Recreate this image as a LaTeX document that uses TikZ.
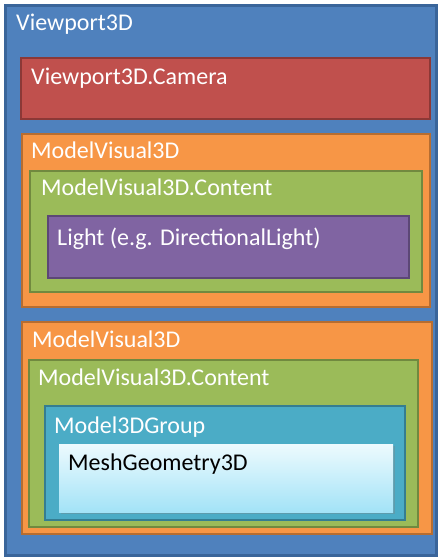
\documentclass[tikz,border=0pt]{standalone}
\usepackage{fontspec}
\setmainfont{Carlito}
\usetikzlibrary{positioning,shadows}
\definecolor{vpFill}{HTML}{4F81BD}\definecolor{vpLine}{HTML}{3A659A}
\definecolor{camFill}{HTML}{C0504D}\definecolor{camLine}{HTML}{8C3836}
\definecolor{mvFill}{HTML}{F79646}\definecolor{mvLine}{HTML}{B66D31}
\definecolor{mcFill}{HTML}{9BBB59}\definecolor{mcLine}{HTML}{71893F}
\definecolor{ltFill}{HTML}{8064A2}\definecolor{ltLine}{HTML}{5C4776}
\definecolor{grpFill}{HTML}{4BACC6}\definecolor{grpLine}{HTML}{357D91}
\definecolor{meshTop}{HTML}{EDFAFE}\definecolor{meshBot}{HTML}{A3E3F7}
\tikzset{
  layer/.style={draw, line width=2pt, rectangle, anchor=north west, inner sep=0pt},
  tag/.style={anchor=base west, inner sep=0pt, text=white, font=\fontsize{24}{27}\selectfont}
}

\begin{document}
\begin{tikzpicture}[x=1pt, y=-1pt]
            \useasboundingbox (0,0) rectangle (438,558);
            %Boxes
            \node[layer, line width=3pt, draw=vpLine, fill=vpFill, minimum width=431pt, minimum height=550pt] at (4,4) (vp) {};
            \node[layer, draw=camLine, fill=camFill, minimum width=409pt, minimum height=61pt] at (20,57) (cam) {};
            \node[layer, draw=mvLine, fill=mvFill, minimum width=408pt, minimum height=173pt] at (21,133) (mv1) {};
            \node[layer, draw=mcLine, fill=mcFill, minimum width=392pt, minimum height=121pt] at (29,170) (mc1) {};
            \node[layer, draw=ltLine, fill=ltFill, minimum width=361pt, minimum height=62pt] at (47,215) (light) {};
            \node[layer, draw=mvLine, fill=mvFill, minimum width=410pt, minimum height=212pt] at (21,321) (mv2) {};
            \node[layer, draw=mcLine, fill=mcFill, minimum width=389pt, minimum height=167pt] at (28,359) (mc2) {};
            \node[layer, draw=grpLine, fill=grpFill, minimum width=360pt, minimum height=114pt] at (44,405) (grp) {};
            \node[layer, draw=none, top color=meshTop, bottom color=meshBot, drop shadow={shadow xshift=1.5pt, shadow yshift=-1.5pt, opacity=0.35}, minimum width=334pt, minimum height=68pt] at (58,443) (mesh) {};

            %Labels
            \node[tag] at (16,30) (vpname) {Viewport3D};
            \node[tag] at (31,84) (camname) {Viewport3D.Camera};
            \node[tag] at (31,158) (mv1name) {ModelVisual3D};
            \node[tag] at (41,195) (mc1name) {ModelVisual3D.Content};
            \node[tag] at (57,245) (lightname) {Light (e.g. DirectionalLight)};
            \node[tag] at (32,347) (mv2name) {ModelVisual3D};
            \node[tag] at (38,385) (mc2name) {ModelVisual3D.Content};
            \node[tag] at (54,433) (grpname) {Model3DGroup};
            \node[tag, text=black] at (68,470) (meshname) {MeshGeometry3D};
        \end{tikzpicture}
\end{document}
